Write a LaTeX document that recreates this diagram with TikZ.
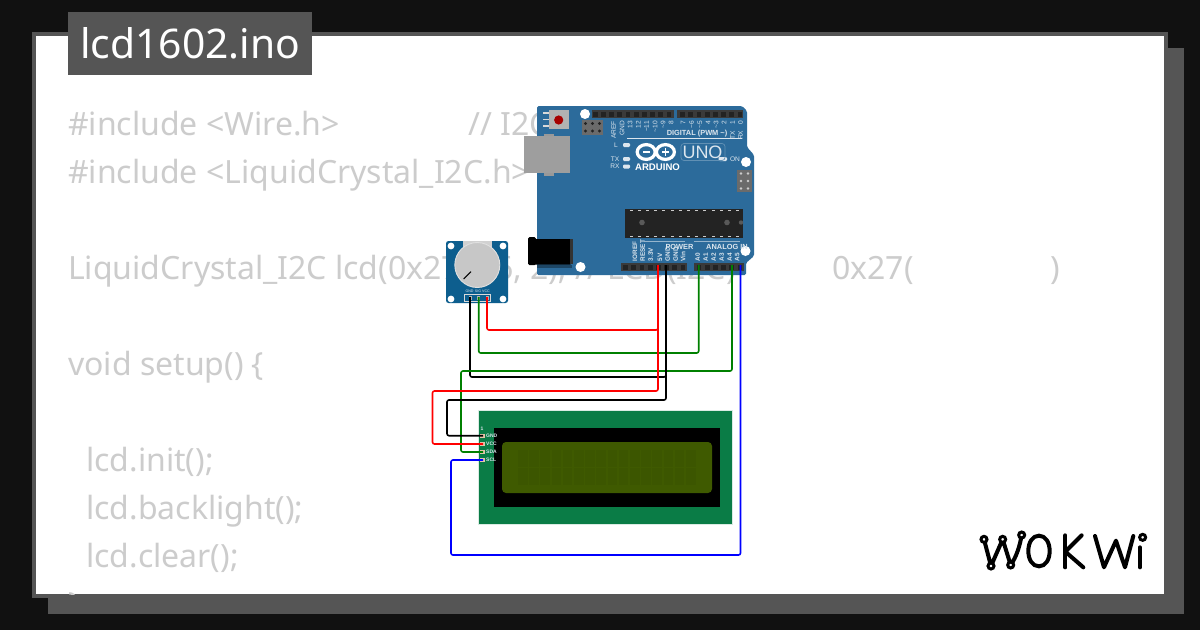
\documentclass[tikz,border=0pt]{standalone}
\usepackage{fontspec}
\setmainfont{Liberation Sans}
\newfontfamily\codefont{Noto Sans}
\newfontfamily\titlefont{Noto Sans}
\definecolor{pagebg}{HTML}{111111}
\definecolor{framegray}{HTML}{555555}
\definecolor{codegray}{HTML}{CCCCCC}
\definecolor{unoblue}{HTML}{2C6B9B}
\definecolor{potblue}{HTML}{0D5E8E}
\definecolor{hdr}{HTML}{3A3A3A}
\definecolor{hdrpin}{HTML}{232323}
\definecolor{lcdgreen}{HTML}{0A7C46}
\definecolor{lcdscreen}{HTML}{3F5A00}
\definecolor{lcdcell}{HTML}{3C5600}
\definecolor{labelw}{HTML}{DCE6EE}
\definecolor{wgreen}{HTML}{008000}
\tikzset{
  codeline/.style={anchor=base west,inner sep=0pt,text=codegray,font=\codefont\fontsize{32}{32}\selectfont},
  wirestyle/.style={line width=1.6pt,rounded corners=2pt},
  pinlabel/.style={inner sep=0pt,text=labelw,rotate=90,anchor=west,font=\fontsize{6.6}{6.6}\selectfont},
  boldlabel/.style={inner sep=0pt,text=labelw,font=\bfseries\fontsize{7.4}{7.4}\selectfont},
  sidelabel/.style={inner sep=0pt,text=labelw,font=\fontsize{6.6}{6.6}\selectfont},
  lcdlabel/.style={inner sep=0pt,anchor=west,text=labelw,font=\bfseries\fontsize{5}{5}\selectfont},
  potlabel/.style={inner sep=0pt,text=labelw,font=\fontsize{3.6}{3.6}\selectfont},
  led/.style={fill=#1,rounded corners=1.2pt},
  logostroke/.style={line width=4pt,line cap=round,line join=round,black},
  logocircle/.style={line width=3pt,draw=black,fill=white},
}
\begin{document}
\begin{tikzpicture}[x=1pt,y=-1pt]
\useasboundingbox (0,0) rectangle (1200,630);
% page and frame
\fill[pagebg] (0,0) rectangle (1200,630);
\fill[framegray] (48,48) rectangle (1184,614);
\fill[framegray] (32,32) rectangle (1168,598);
\fill[white] (36,36) rectangle (1164,594);
% code text, clipped to the page
\begin{scope}
\clip (36,36) rectangle (1164,594);
\node[codeline] (c1) at (68,135) {\#include <Wire.h>};
\node[codeline] (c1b) at (468,135) {// I2C};
\node[codeline] (c2) at (68,183) {\#include <LiquidCrystal\_I2C.h>};
\node[codeline] (c3) at (68,279) {LiquidCrystal\_I2C lcd(0x27, 16, 2); // LCD(I2C)};
\node[codeline] (c3b) at (832,279) {0x27(};
\node[codeline] (c3c) at (1050,279) {)};
\node[codeline] (c4) at (68,375) {void setup() \{};
\node[codeline] (c5) at (86,471) {lcd.init();};
\node[codeline] (c6) at (86,519) {lcd.backlight();};
\node[codeline] (c7) at (86,567) {lcd.clear();};
\node[codeline] (c8) at (68,615) {\}};
\end{scope}
% title tab
\fill[framegray] (68,12) rectangle (312,75);
\node[anchor=base west,inner sep=0pt,text=white,font=\titlefont\fontsize{40.8}{40.8}\selectfont] (title) at (80,58) {lcd1602.ino};
% Arduino board
\fill[unoblue,rounded corners=1.5pt] (537,106) -- (742,106) -- (747,111) -- (747,147) -- (754,155) -- (754,256) -- (746,263) -- (746,275) -- (537,275) -- cycle;
\fill[black!35!unoblue] (537,265) rectangle (572,268);
% reset button
\foreach \y in {113,119.5,126} \fill[white!85!black] (543,\y-0.9) rectangle (550,\y+0.9);
\fill[white!70!black] (549,110) rectangle (569,129);
\fill[red!65!black] (558.7,120) circle (4.6);
% mounting holes
\fill[white] (585,114) circle (5);
\fill[white] (746,162) circle (5);
\fill[white] (745.5,251) circle (5);
\fill[white] (580.5,267) circle (5);
% ICSP headers
\fill[white!25!hdr] (582,120) rectangle (603,135);
\foreach \x in {585.5,592.5,599.5} \foreach \y in {123.5,131} \fill[hdrpin] (\x,\y) circle (1.7);
\fill[white!25!hdr] (737,170) rectangle (752,192);
\foreach \y in {173.5,181,188.5} \foreach \x in {741,748} \fill[white!80!black] (\x,\y) circle (1.4);
% pin headers
\fill[hdr] (592,110) rectangle (674,118);
\fill[hdr] (677,110) rectangle (743,118);
\fill[hdr] (621,263) rectangle (687,271);
\fill[hdr] (694,263) rectangle (744,271);
\foreach \i in {0,...,9} \fill[hdrpin] (595.2+8.2*\i-2.4,111.5) rectangle (595.2+8.2*\i+2.4,116.5);
\foreach \i in {0,...,7} \fill[hdrpin] (682.6+8.2*\i-2.4,111.5) rectangle (682.6+8.2*\i+2.4,116.5);
\foreach \i in {0,...,7} \fill[hdrpin] (625.6+8.2*\i-2.4,264.5) rectangle (625.6+8.2*\i+2.4,269.5);
\foreach \i in {0,...,5} \fill[hdrpin] (699+8.2*\i-2.4,264.5) rectangle (699+8.2*\i+2.4,269.5);
% top pin labels
\foreach \t/\x [count=\n] in {AREF/613.6,GND/622,13/630,12/638.2,{\textasciitilde11}/646.6,{\textasciitilde10}/655,{\textasciitilde9}/663,8/671,7/683,{\textasciitilde6}/691.5,{\textasciitilde5}/700,4/708,{\textasciitilde3}/716,2/724,1/732.5,0/740.5}
  \node[pinlabel,anchor=east] (dl\n) at (\x,121) {\t};
\node[boldlabel] (dig) at (697,134) {DIGITAL (PWM \textasciitilde)};
\node[pinlabel,anchor=east] (ltx) at (732.5,130.5) {TX};
\node[pinlabel,anchor=east] (lrx) at (740.5,130.5) {RX};
\fill[labelw] (627,138) rectangle (742,138.6);
% LEDs
\node[sidelabel] (ll) at (616,145) {L};
\node[sidelabel] (ltxl) at (615,159) {TX};
\node[sidelabel] (lrxl) at (615,166.5) {RX};
\fill[led=labelw] (623,143) rectangle (630,147);
\fill[led=labelw] (623,157) rectangle (630,161);
\fill[led=labelw] (623,164.5) rectangle (630,168.5);
\fill[led=labelw] (718.5,157) rectangle (727,161);
\node[sidelabel] (lon) at (735,159.5) {ON};
% Arduino logo
\draw[white,line width=3.2pt] (646.2,152) ellipse (9pt and 7.4pt);
\draw[white,line width=3.2pt] (665.4,152) ellipse (9pt and 7.4pt);
\fill[white] (642.5,151.2) rectangle (650,152.8);
\fill[white] (661.7,151.2) rectangle (669.2,152.8);
\fill[white] (664.6,148.3) rectangle (666.2,155.7);
\node[inner sep=0pt,text=white,font=\bfseries\fontsize{9.6}{9.6}\selectfont] (ard) at (657.5,167) {ARDUINO};
\draw[labelw!30!unoblue,line width=0.7pt,rounded corners=3pt] (681,143.5) rectangle (725,160.5);
\node[inner sep=0pt,text=labelw,font=\fontsize{18}{18}\selectfont] (uno) at (702.5,152) {UNO};
% USB and jack
\fill[white!60!black] (544,133.5) rectangle (554,176);
\fill[white!62!black] (524,136) rectangle (570,173);
\fill[black,rounded corners=1.5pt] (528,237) rectangle (536,265);
\fill[black,rounded corners=2pt] (530,239) rectangle (572,264.5);
\fill[black!80!white] (570,239) rectangle (572.5,264);
% ATmega
\fill[hdrpin] (625,209) rectangle (743,238);
\foreach \i in {0,...,13} {
  \fill[white!80!black] (631+8.2*\i-1.5,209.8) rectangle (631+8.2*\i+1.5,210.8);
  \fill[white!80!black] (631+8.2*\i-1.5,236.2) rectangle (631+8.2*\i+1.5,237.2);
}
\fill[black!65!white] (642,222.5) circle (2.8);
\fill[black!65!white] (727,222.5) circle (2.8);
\fill[black!65!white] (741,222.5) circle (2.2);
% lower labels
\foreach \t/\x [count=\n] in {IOREF/635,RESET/642.7,3.3V/650.7,5V/660,GND/667.7,GND/675.7,Vin/683}
  \node[pinlabel,font=\bfseries\fontsize{6.4}{6.4}\selectfont] (pl\n) at (\x,261.5) {\t};
\foreach \t/\x [count=\n] in {A0/697.7,A1/705.7,A2/713.7,A3/721.7,A4/729.7,A5/737.3}
  \node[pinlabel,font=\bfseries\fontsize{6.4}{6.4}\selectfont] (al\n) at (\x,261.5) {\t};
\fill[labelw!60!unoblue] (644,241) rectangle (685,241.6);
\fill[labelw!60!unoblue] (694,241) rectangle (740,241.6);
\node[boldlabel] (lpow) at (679.5,246.7) {POWER};
\node[boldlabel] (lan) at (727,246.7) {ANALOG IN};
% potentiometer
\fill[potblue,rounded corners=2.5pt] (446,241) rectangle (508,303);
\fill[white] (451,246) circle (3.4);
\fill[white] (503,246) circle (3.4);
\fill[white] (451,299) circle (3.4);
\fill[white] (503,299) circle (3.4);
\fill[white!82!black] (463,241) rectangle (492,252);
\fill[white!78!black,draw=white!88!black,line width=0.9pt] (477.3,265) circle (22.5);
\draw[black,line width=1.1pt] (463.7,279) -- (471,271.7);
\draw[white!85!black,line width=0.8pt] (464.5,294) rectangle (490.5,301);
\node[potlabel] (pg) at (469.5,291.2) {GND};
\node[potlabel] (ps) at (478,291.2) {SIG};
\node[potlabel] (pv) at (486,291.2) {VCC};
\foreach \x in {470,478.7,487} \fill[white!70!black] (\x-1.5,295.5) rectangle (\x+1.5,299.5);
% LCD
\fill[lcdgreen,draw=white!85!lcdgreen,line width=0.5pt] (478,410) rectangle (732,524);
\fill[black] (494,428) rectangle (720,507);
\fill[lcdscreen,rounded corners=4pt] (502,442) rectangle (712,493);
\foreach \i in {0,...,15} \foreach \y in {450,468}
  \fill[lcdcell] (518+11.2*\i,\y) rectangle (518+11.2*\i+9.6,\y+17);
\node[lcdlabel] (l1) at (480.5,429) {1};
\node[lcdlabel] (lg) at (486,436) {GND};
\node[lcdlabel] (lv) at (486,444) {VCC};
\node[lcdlabel] (ld) at (486,452) {SDA};
\node[lcdlabel] (lc) at (486,460) {SCL};
\foreach \y in {436,444,452,460} \fill[white!55!brown] (480,\y-2) rectangle (484.5,\y+2);
% pins and bends
\coordinate (potgnd) at (470,297);
\coordinate (potsig) at (478.7,297);
\coordinate (potvcc) at (487,297);
\coordinate (uno5v) at (658,265);
\coordinate (unognd) at (666,265);
\coordinate (unoa0) at (698.7,265);
\coordinate (unoa4) at (732,265);
\coordinate (unoa5) at (740.5,265);
\coordinate (lcdgnd) at (483,435.7);
\coordinate (lcdvcc) at (483,444);
\coordinate (lcdsda) at (483,452);
\coordinate (lcdscl) at (483,460);
\coordinate (b1) at (658,330);
\coordinate (b2) at (698.7,353);
\coordinate (b3) at (666,377);
\coordinate (b4) at (461,371);
\coordinate (b5) at (432.5,391);
\coordinate (b6) at (447,400);
\coordinate (b7) at (451,555);
% wires
\draw[wirestyle,red] (potvcc) |- (b1) -- (uno5v);
\draw[wirestyle,wgreen] (potsig) |- (b2) -- (unoa0);
\draw[wirestyle,black] (potgnd) |- (b3) -- (unognd);
\draw[wirestyle,wgreen] (unoa4) |- (b4) |- (lcdsda);
\draw[wirestyle,red] (uno5v) |- (b5) |- (lcdvcc);
\draw[wirestyle,black] (unognd) |- (b6) |- (lcdgnd);
\draw[wirestyle,blue] (unoa5) |- (b7) |- (lcdscl);
% Wokwi logo
\begin{scope}[shift={(960,510)},x=0.3333pt,y=-0.3333pt]
\draw[logostroke] (72,88) -- (93,168) -- (128,88) -- (152,165) .. controls (170,140) and (180,105) .. (185,75);
\foreach \x/\y in {72/88,128/88,185/75,93/168,152/165} \draw[logocircle] (\x,\y) circle (3pt);
\draw[logostroke] (237,77) .. controls (257,77) and (269,98) .. (269,123) .. controls (269,148) and (257,169) .. (237,169) .. controls (217,169) and (205,148) .. (205,123) .. controls (205,98) and (217,77) .. (237,77) -- cycle;
\draw[logostroke] (316,76) -- (316,172);
\draw[logostroke] (365,76) -- (316,125) -- (370,172);
\draw[logostroke] (405,78) -- (432,172) -- (468,92) -- (495,172) -- (520,78);
\draw[logostroke] (540,112) -- (540,172);
\draw[logocircle] (548,82) circle (3pt);
\end{scope}
\end{tikzpicture}
\end{document}
